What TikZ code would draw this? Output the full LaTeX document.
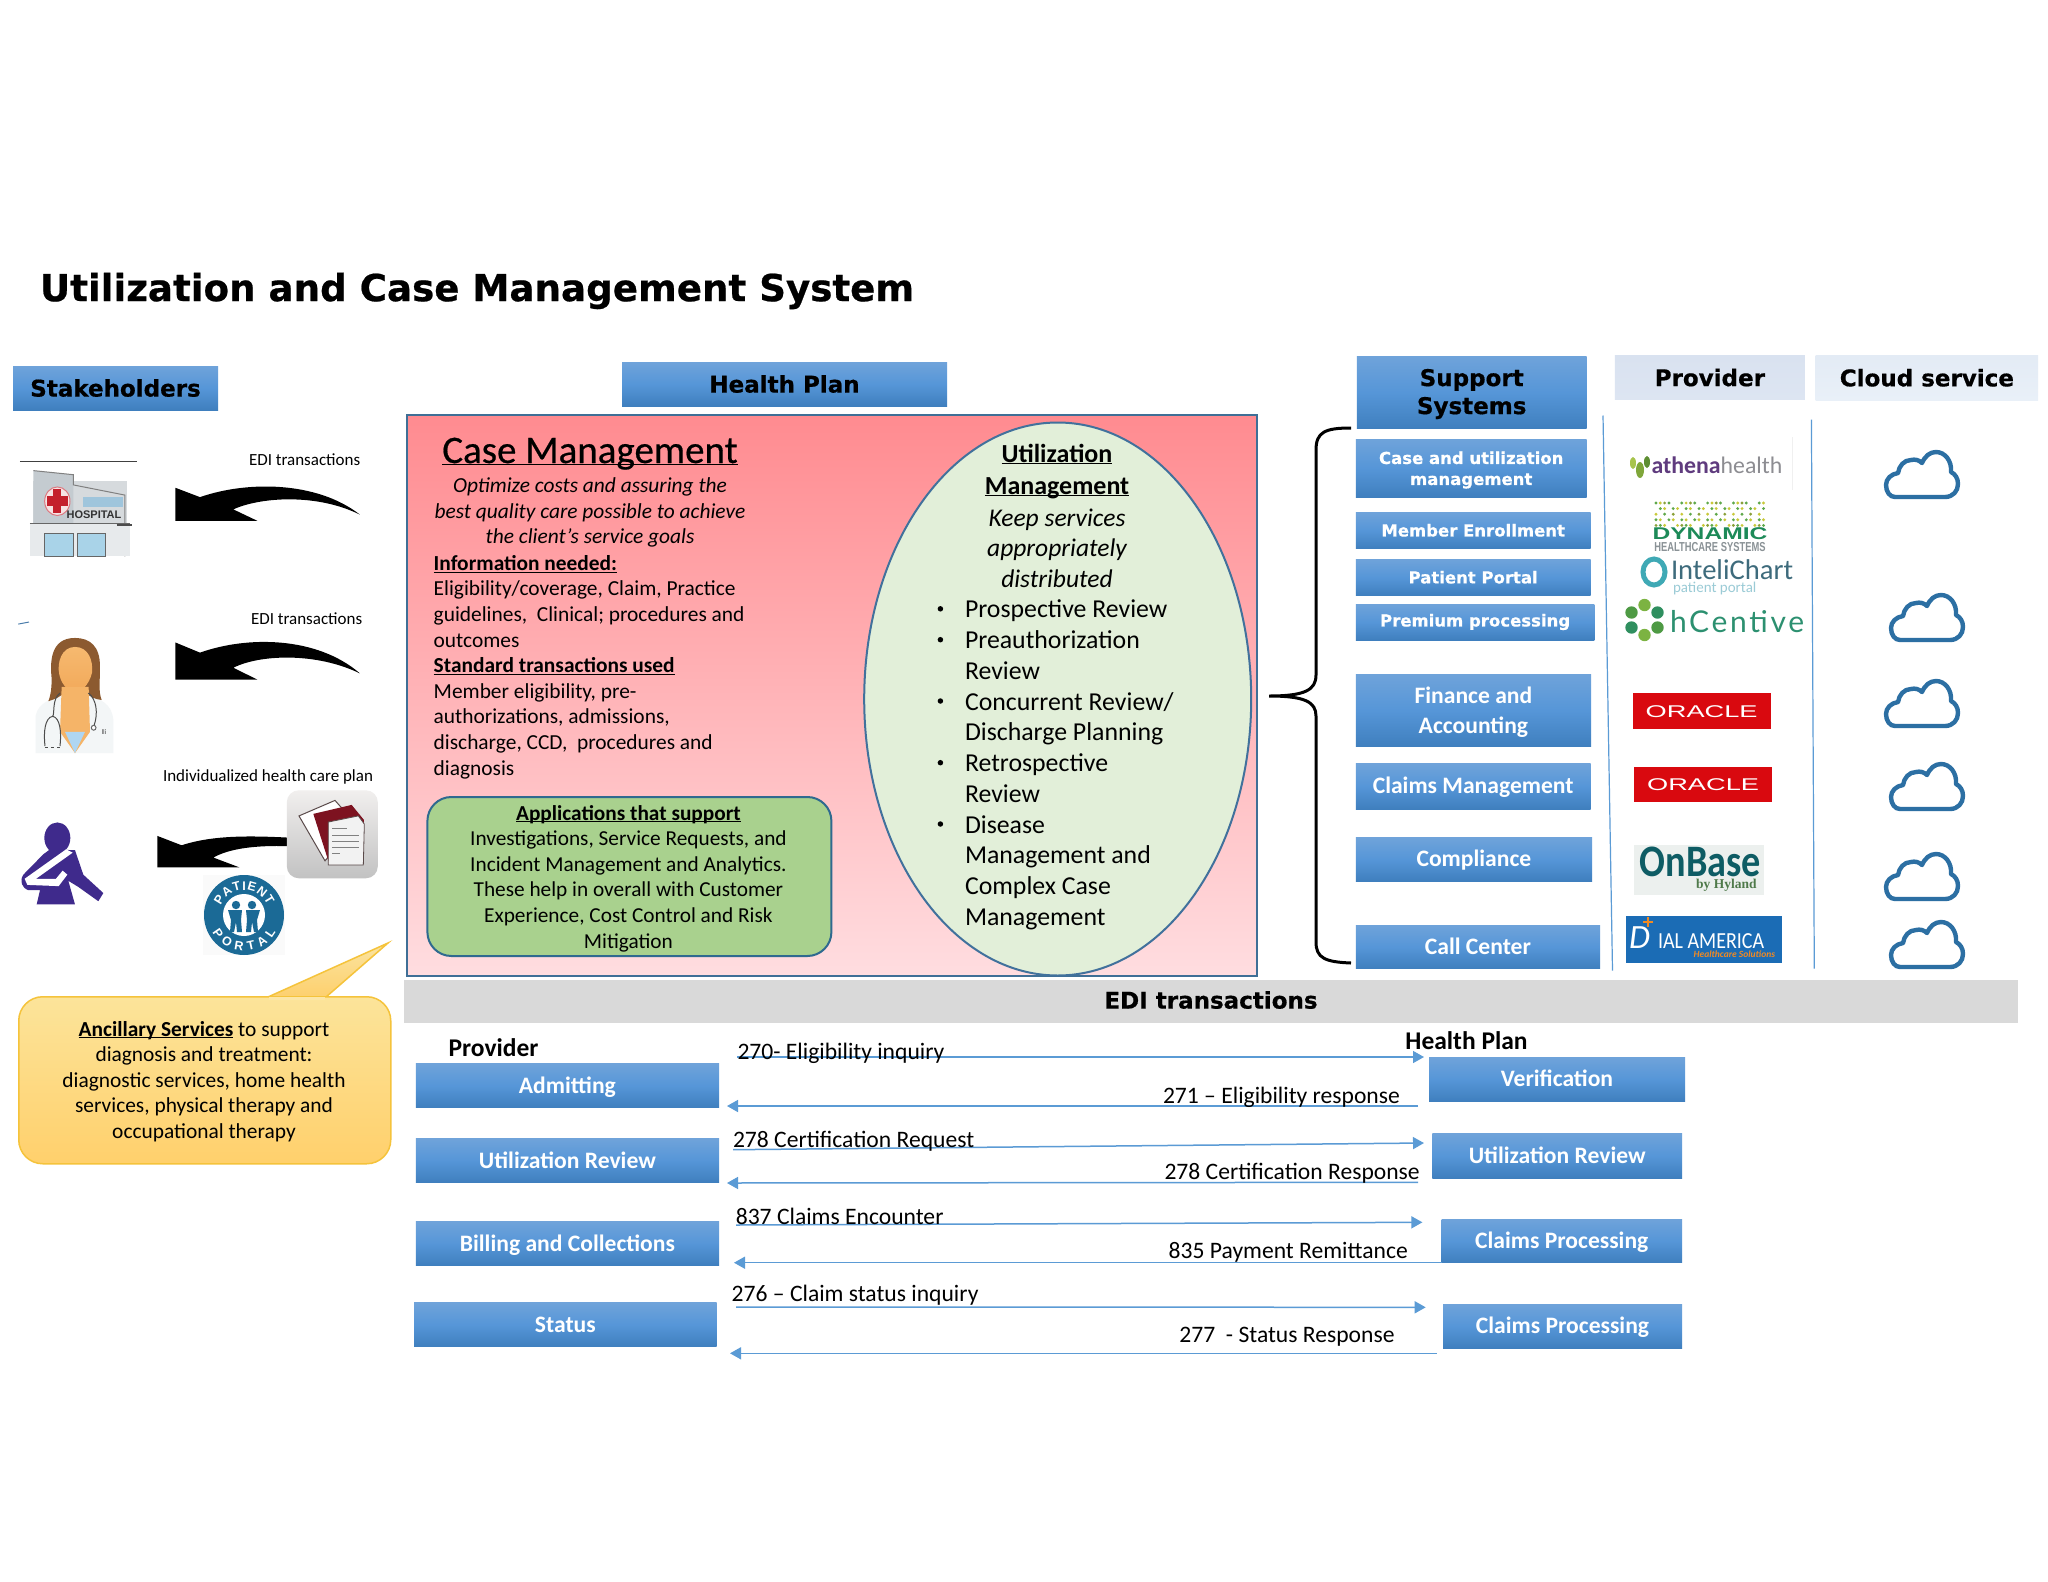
\documentclass[tikz,border=0pt]{standalone}
\usepackage{fontspec}
\usetikzlibrary{arrows.meta,decorations.text,shapes.geometric}
\setmainfont{Carlito}
\newfontfamily\verd{DejaVu Sans}[BoldFeatures={FakeBold=0.6}]
\newfontfamily\lato{Lato}
\newfontfamily\lserif{Liberation Serif}
\newfontfamily\lsans{Liberation Sans}
\newcommand\fsz[2]{\fontsize{#1}{#2}\selectfont}
\newcommand\uline[1]{\underline{\smash{#1}}\vphantom{Ag}}
\newcommand\dc[1]{\definecolor{#1}{HTML}{#1}}
\dc{F3F6F7}\dc{3F6F96}\dc{FF8B90}\dc{FFDDE0}\dc{2F6A8F}\dc{A9D18E}\dc{41719C}\dc{E2EFD9}\dc{D6DADD}\dc{C4CBD0}\dc{9FC5DC}\dc{E7EAEC}\dc{A9D3E8}\dc{F6E3E3}\dc{C4202C}\dc{8C5A30}\dc{F6B96F}\dc{F2A95A}\dc{F5B468}\dc{AFD6F2}\dc{3F2A8C}\dc{F1EFEE}\dc{C2C2C2}\dc{5A4A4A}\dc{7D1220}\dc{F2F2F2}\dc{1B6A96}\dc{F5C33B}\dc{FBE4A0}\dc{FDD06E}\dc{FCE49A}\dc{FFD06C}\dc{FCE6A6}\dc{7FA63A}\dc{A7C44C}\dc{5E8E32}\dc{5F3B7E}\dc{8D8D92}\dc{5FA84A}\dc{C9C93A}\dc{8AA03A}\dc{1D8A58}\dc{8A9296}\dc{3FA9B5}\dc{3E6B7C}\dc{9BCBD6}\dc{7CB342}\dc{4E9A44}\dc{2F8F5F}\dc{2C9070}\dc{D9090F}\dc{ECF0EE}\dc{0E5C64}\dc{4F7A4A}\dc{1B6CB5}\dc{F08A24}\dc{D9D9D9}\dc{E3EBF5}\dc{E9F0F8}\dc{D9E2F0}\dc{DDE5F2}\dc{2C6FA3}
\definecolor{bxtop}{HTML}{6FA3DA}
\definecolor{bxmid}{HTML}{5696D8}
\definecolor{bxbot}{HTML}{3F7FBE}
\definecolor{lnblue}{HTML}{5B9BD5}
\tikzset{
  bluebox/.style={inner sep=0,outer sep=0,align=center,top color=bxtop,bottom color=bxbot,middle color=bxmid,text=white},
  lightbox/.style={inner sep=0,outer sep=0,align=center,top color=D9E2F0,bottom color=DDE5F2},
  lbl/.style={inner sep=0,outer sep=0,align=center,text=black},
  edi/.style={lbl,anchor=west,font=\fsz{23.6}{26}},
  hdr/.style={font=\verd\bfseries\fsz{23}{28},text=black},
  sup/.style={font=\verd\bfseries\fsz{16.5}{21}},
  cal/.style={font=\bfseries\fsz{23.6}{29.5}},
  calone/.style={cal,text height=16pt,text depth=1pt},
  flow/.style={draw=lnblue,line width=1.5pt,-{Triangle[length=11pt,width=12pt,fill=lnblue]}},
  cloudline/.style={draw=2C6FA3,line width=4.4pt,line join=round},
  cloudshape/.pic={\draw[cloudline] (10,46) -- (60,46) .. controls (68,46) and (73,40) .. (73,33) .. controls (73,27) and (70,23) .. (66,21) .. controls (67,10) and (60,1) .. (51,1) .. controls (45,1) and (40,5) .. (37,12) .. controls (34,9) and (30,8) .. (26,9) .. controls (19,9) and (14,15) .. (13,22) .. controls (6,23) and (1,28) .. (1,34) .. controls (1,41) and (5,46) .. (10,46) -- cycle;}
}
% [style]{name}{x1}{y1}{x2}{y2}{text}
\newcommand\bbx[7][bluebox]{%
  \pgfmathsetmacro\bw{#5-#3}\pgfmathsetmacro\bh{#6-#4}%
  \node[#1,minimum width=\bw pt,minimum height=\bh pt,anchor=north west] (#2) at (#3,#4) {#7};}
\begin{document}
\begin{tikzpicture}[x=1pt,y=-1pt]
\useasboundingbox[fill=white] (0,0) rectangle (2048,1582);

% title
\node[lbl,anchor=west,font=\verd\bfseries\fsz{37.2}{42}] (title) at (40,291) {Utilization and Case Management System};

% headers
\bbx[bluebox,hdr]{stake}{13}{366}{218}{410}{Stakeholders}
\bbx[bluebox,hdr]{hplan}{622}{362}{947}{406}{Health Plan}
\bbx[bluebox,hdr]{suphdr}{1356.8}{356}{1586.7}{428.6}{}
\node[lbl,hdr,font=\verd\bfseries\fsz{23}{28}] (suptxt) at (1471.7,394) {Support\\Systems};
\bbx[lightbox,hdr]{prov}{1614.9}{355.5}{1804.8}{399.6}{Provider}
\bbx[lightbox,hdr,top color=E3EBF5,bottom color=E9F0F8]{cloudh}{1815.7}{355.5}{2038}{400}{Cloud service}

% support systems
\bbx[bluebox,sup]{s1}{1355.8}{439}{1586.7}{497}{}
\node[lbl,sup,text=white] (s1t) at (1471.2,470) {Case and utilization\\management};
\bbx[bluebox,sup]{s2}{1355.8}{512}{1590.5}{548.6}{Member Enrollment}
\bbx[bluebox,sup]{s3}{1355.8}{559}{1590.5}{595.5}{Patient Portal}
\bbx[bluebox,sup]{s4}{1355.8}{604}{1594.4}{640}{Premium processing}
\bbx[bluebox,cal]{s5}{1355.8}{674}{1591}{746.5}{}
\node[lbl,cal,text=white] (s5t) at (1473.4,712) {Finance and\\Accounting};
\bbx[bluebox,calone]{s6}{1355.8}{763.7}{1590.5}{809}{Claims Management}
\bbx[bluebox,calone]{s7}{1355.8}{837.5}{1592}{881}{Compliance}
\bbx[bluebox,calone]{s8}{1355.8}{925}{1600}{968.6}{Call Center}

% separators
\coordinate (v1a) at (1603,415.5); \coordinate (v1b) at (1612.5,970.6);
\coordinate (v2a) at (1811.4,419.6); \coordinate (v2b) at (1814.3,968.6);
\draw[lnblue,line width=1.2pt] (v1a) -- (v1b);
\draw[lnblue,line width=1.2pt] (v2a) -- (v2b);

% brace
\draw[black,line width=3pt] (1351,428) .. controls (1325,428) and (1316,432) .. (1316,450) -- (1316,675) .. controls (1316,690) and (1305,696) .. (1269,696) .. controls (1305,696) and (1316,702) .. (1316,716) -- (1316,942) .. controls (1316,958) and (1325,962) .. (1351,963);

% main panel
\node[draw=3F6F96,line width=2.4pt,top color=FF8B90,bottom color=FFDDE0,minimum width=850pt,minimum height=561pt,anchor=north west,inner sep=0] (panel) at (406,414) {};
\node[lbl,anchor=base,font=\fsz{39}{42}] (cmt) at (590,463) {\addfontfeature{FakeBold=0.5}\uline{Case Management}};
\node[lbl,font=\itshape\fsz{21.4}{25.7}] (cmi) at (590,512.5) {Optimize costs and assuring the\\best quality care possible to achieve\\the client's service goals};
\node[lbl,align=left,anchor=north west,font=\fsz{21.4}{25.6}] (cmb) at (433.7,556.5) {\textbf{\uline{Information needed:}}\\Eligibility/coverage, Claim, Practice\\guidelines,\ \ Clinical; procedures and\\outcomes\\\textbf{\uline{Standard transactions used}}\\Member eligibility, pre-\\authorizations, admissions,\\discharge, CCD,\ \ procedures and\\diagnosis};
\node[draw=2F6A8F,line width=2pt,fill=A9D18E,rounded corners=24pt,minimum width=404pt,minimum height=159pt,anchor=north west,inner sep=0] (apps) at (426.4,796) {};
\node[lbl,font=\fsz{21.3}{25.6}] (appst) at (628.4,879) {\textbf{\uline{Applications that support}}\\Investigations, Service Requests, and\\Incident Management and Analytics.\\These help in overall with Customer\\Experience, Cost Control and Risk\\Mitigation};
\node[ellipse,draw=41719C,line width=2pt,fill=E2EFD9,minimum width=387pt,minimum height=553pt,inner sep=0] (um) at (1057.7,699) {};
\node[lbl,font=\fsz{26}{32}] (umt) at (1057,472) {\textbf{\uline{Utilization}}\\\textbf{\uline{Management}}};
\node[lbl,font=\itshape\fsz{25.5}{30.5}] (umi) at (1057,548) {Keep services\\appropriately\\distributed};
\node[lbl,align=left,anchor=north west,font=\fsz{25.8}{30.75}] (uml) at (965,600) {Prospective Review\\Preauthorization\\Review\\Concurrent Review/\\Discharge Planning\\Retrospective\\Review\\Disease\\Management and\\Complex Case\\Management};
\foreach \n/\yy in {1/608.8,2/639.7,3/701,4/762.7,5/824} \node[circle,fill=black,inner sep=0,minimum size=5.5pt] (bul\n) at (940.4,\yy) {};

% stakeholders labels
\node[lbl,anchor=west,font=\fsz{17}{20}] (e1) at (249,460) {EDI transactions};
\node[lbl,anchor=west,font=\fsz{17}{20}] (e2) at (251,619) {EDI transactions};
\node[lbl,anchor=west,font=\fsz{17}{20}] (e3) at (163,777) {Individualized health care plan};

% black curved arrows, in the coordinates of the crop
\begin{scope}[shift={(0,340)},x=0.33333pt,y=-0.40816pt]
 \fill[black] (526,362) -- (600,385) .. controls (740,345) and (950,345) .. (1080,428) .. controls (950,375) and (780,385) .. (700,415) -- (772,443) -- (526,443) -- cycle;
 \fill[black] (526,741) -- (600,766) .. controls (740,725) and (950,725) .. (1080,817) .. controls (950,765) and (780,770) .. (700,803) -- (772,832) -- (526,832) -- cycle;
 \fill[black] (472,1215) -- (545,1238) .. controls (640,1212) and (760,1215) .. (862,1219) -- (862,1240) .. controls (770,1238) and (690,1245) .. (640,1268) -- (718,1292) -- (472,1292) -- cycle;

 % hospital
 \draw[black!75,line width=1pt] (60,297) -- (410,297);
 \fill[D6DADD] (100,345) rectangle (380,530);
 \fill[C4CBD0] (100,320) -- (220,330) -- (220,470) -- (100,470) -- cycle;
 \draw[gray,line width=1pt] (100,320) -- (220,330) -- (220,355) -- (375,380) -- (375,530);
 \fill[9FC5DC] (250,385) rectangle (370,410);
 \fill[E7EAEC] (90,450) rectangle (390,530);
 \fill[A9D3E8] (135,475) rectangle (220,530);
 \fill[A9D3E8] (232,475) rectangle (318,530);
 \draw[gray!80!black,line width=1pt] (135,475) rectangle (220,530) (232,475) rectangle (318,530) (90,450) -- (390,450);
 \draw[black!70,line width=1.2pt] (350,453) -- (397,453);
 \fill[F6E3E3] (172,395) ellipse (38 and 35);
 \draw[C4202C!60,line width=1pt] (172,395) ellipse (38 and 35);
 \fill[C4202C] (160,365) rectangle (184,425);
 \fill[C4202C] (140,383) rectangle (204,407);
 \node[lbl,font=\lsans\bfseries\fsz{11}{13},text=black!80] (hosp) at (282,427) {HOSPITAL};

 % blue dash
 \draw[lnblue!80!black,line width=1pt] (55,696) -- (87,691);

 % doctor
 \fill[F3F6F7] (107,1012) -- (107,920) .. controls (115,890) and (150,880) .. (185,870) -- (265,870) .. controls (300,880) and (335,890) .. (340,930) -- (340,1012) -- cycle;
 \fill[8C5A30] (225,730) .. controls (150,730) and (150,790) .. (155,830) .. controls (155,860) and (150,875) .. (145,885) .. controls (165,880) and (180,875) .. (200,860) -- (250,860) .. controls (270,875) and (285,880) .. (305,882) .. controls (295,860) and (300,840) .. (300,800) .. controls (300,750) and (270,730) .. (225,730) -- cycle;
 \shade[top color=F6B96F,bottom color=F2A95A] (225,752) .. controls (185,752) and (170,790) .. (178,820) .. controls (186,850) and (215,865) .. (225,865) .. controls (240,865) and (268,845) .. (276,815) .. controls (280,785) and (265,752) .. (225,752) -- cycle;
 \fill[F5B468] (185,850) -- (266,850) -- (270,960) -- (225,1012) -- (180,960) -- cycle;
 \fill[AFD6F2] (195,960) -- (255,960) -- (225,1012) -- cycle;
 \draw[black!70,line width=1pt] (180,865) .. controls (155,880) and (165,915) .. (158,922) .. controls (135,925) and (130,960) .. (135,995) (158,922) .. controls (180,925) and (185,960) .. (180,995);
 \draw[black!70,line width=1.4pt,dashed] (135,998) -- (180,998);
 \draw[black!70,line width=1pt] (265,865) .. controls (290,880) and (295,915) .. (282,945);
 \draw[black!60,fill=white,line width=1pt] (281,950) ellipse (7 and 6);
 \node[lbl,font=\fsz{7}{8},text=black!70] (docmark) at (312,960) {lli};

 % patient
 \fill[3F2A8C] (172,1220) ellipse (39 and 38);
 \fill[3F2A8C] (150,1248) -- (225,1250) -- (250,1310) -- (310,1355) -- (295,1375) -- (235,1340) -- (205,1325) -- (225,1383) -- (110,1383) -- (120,1348) -- (85,1348) .. controls (65,1342) and (58,1325) .. (70,1310) -- (130,1260) -- cycle;
 \fill[white] (198,1248) -- (218,1256) -- (108,1320) -- (168,1320) -- (188,1300) -- (202,1310) -- (176,1338) -- (82,1335) -- (74,1320) -- cycle;

 % documents icon
 \begin{scope}[shift={(0,6)}]
 \node[rounded corners=12pt,top color=F1EFEE,bottom color=C2C2C2,minimum width=91pt,minimum height=88pt,anchor=center,inner sep=0] (docs) at (997,1205) {};
 \fill[white] (897,1160) -- (1005,1122) -- (1068,1180) -- (975,1270) -- cycle;
 \draw[5A4A4A,line width=1pt] (897,1160) -- (1005,1122) -- (1068,1180) -- (975,1270) -- cycle;
 \fill[7D1220] (940,1155) -- (1055,1133) -- (1092,1170) -- (1085,1280) -- (985,1270) -- cycle;
 \fill[F2F2F2] (985,1175) -- (1075,1160) -- (1093,1180) -- (1090,1280) -- (985,1280) -- cycle;
 \draw[5A4A4A,line width=0.8pt] (985,1175) -- (1075,1160) -- (1093,1180) -- (1090,1280) -- (985,1280) -- cycle;
 \foreach \yy/\xe in {1192/1040,1208/1078,1222/1078,1238/1078,1252/1020} \draw[gray,line width=1pt] (997,\yy) -- (\xe,\yy);
 \end{scope}
\end{scope}

% patient portal badge
\begin{scope}[shift={(244,915)},x=1pt,y=1pt]
 \fill[white!96!gray] (-41,-40) rectangle (41,40);
 \fill[1B6A96] (0,0) circle (40);
 \fill[white] (0,0) circle (21);
 \fill[1B6A96] (-8,10) circle (4.2) (8,10) circle (4.2);
 \fill[1B6A96] (-16,5) -- (-2,5) -- (-3,-5) -- (-2,-17) -- (-7,-17) -- (-8,-7) -- (-10,-17) -- (-14,-17) -- (-13,-5) -- cycle;
 \fill[1B6A96] (16,5) -- (2,5) -- (3,-5) -- (2,-17) -- (7,-17) -- (8,-7) -- (10,-17) -- (14,-17) -- (13,-5) -- cycle;
 \path[decorate,decoration={text along path,text align=fit to path,text={|\lsans\bfseries\fsz{12.5}{14}\color{white}|PATIENT}}] (158:25) arc (158:22:25);
 \path[decorate,decoration={text along path,text align=fit to path,text={|\lsans\bfseries\fsz{12.5}{14}\color{white}|PORTAL}}] (208:36) arc (208:332:36);
\end{scope}

% ancillary callout
\draw[draw=F5C33B,line width=1.5pt,top color=FBE4A0,bottom color=FDD06E] (268,997) -- (388,943) -- (326,997) -- cycle;
\node[draw=F5C33B,line width=1.5pt,top color=FCE49A,bottom color=FFD06C,rounded corners=24pt,minimum width=372pt,minimum height=167pt,anchor=north west,inner sep=0] (anc) at (18,996) {};
\fill[FCE6A6] (269,997) -- (325,997) -- (325,1000) -- (269,1000) -- cycle;
\node[lbl,font=\fsz{21.4}{25.6}] (anct) at (204,1082) {\textbf{\uline{Ancillary Services}} to support\\diagnosis and treatment:\\diagnostic services, home health\\services, physical therapy and\\occupational therapy};

% clouds
\foreach \n/\xx/\yy in {1/1885/451,2/1890/594,3/1885/680,4/1890/763,5/1885/853,6/1890/921}
  \pic (cl\n) at (\xx,\yy) {cloudshape};

% logos
% athenahealth
\fill[7FA63A] (1640,470) ellipse (4 and 8);
\fill[A7C44C] (1633,463) ellipse (3 and 6);
\fill[5E8E32] (1647,462) ellipse (3 and 6);
\node[lbl,anchor=west,font=\fsz{23.8}{28}] (athena) at (1651.6,465) {\textcolor{5F3B7E}{\bfseries athena}\textcolor{8D8D92}{health}};
\draw[black!6,line width=1pt] (1792,437) -- (1792,490);
% dynamic
\foreach \i in {0,...,25} \foreach \j in {0,...,4} {
  \pgfmathtruncatemacro\mm{mod(\i*7+\j*\j*5+\i*\j,6)}
  \ifnum\mm<4
    \pgfmathtruncatemacro\cc{mod(\i+\j*2,3)}
    \ifnum\cc<1 \fill[5FA84A] (1656+\i*4.3,503+\j*5.6) circle (1.6);\else
    \ifnum\cc<2 \fill[C9C93A] (1656+\i*4.3,503+\j*5.6) circle (1.6);\else
    \fill[8AA03A] (1656+\i*4.3,503+\j*5.6) circle (1.6);\fi\fi
  \fi}
\node[lbl,font=\lsans\bfseries\fsz{17}{18},text=1D8A58] (dyn) at (1710,533.5) {\scalebox{1.45}[1]{DYNAMIC}};
\node[lbl,font=\lsans\bfseries\fsz{13}{14},text=8A9296] (dyn2) at (1710,547) {\scalebox{0.72}[1]{HEALTHCARE SYSTEMS}};
% intelichart
\draw[3FA9B5,line width=5pt] (1654,572) ellipse (11 and 13);
\node[lbl,anchor=west,font=\fsz{28.6}{32},text=3E6B7C] (inteli) at (1671,570) {InteliChart};
\node[lbl,anchor=west,font=\fsz{15}{16},text=9BCBD6] (inteli2) at (1673,588) {patient portal};
% hcentive
\foreach \a/\c in {90/7CB342,30/4E9A44,330/2F8F5F,270/7CB342,210/4E9A44,150/2F8F5F}
  \fill[\c,shift={(1644.5,620)}] (\a:15) circle (6.2);
\node[lbl,anchor=west,font=\lato\fsz{30}{34},text=2C9070] (hcent) at (1670,622) {\addfontfeature{LetterSpace=9}hCentive};
% oracle
\bbx[fill=D9090F,inner sep=0,text=white,font=\lsans\fsz{17}{18}]{or1}{1632.5}{693}{1770.4}{729}{\scalebox{1.6}[1]{ORACLE}}
\bbx[fill=D9090F,inner sep=0,text=white,font=\lsans\fsz{17}{18}]{or2}{1634}{766.5}{1771.8}{802}{\scalebox{1.6}[1]{ORACLE}}
% onbase
\fill[ECF0EE] (1634,845) rectangle (1763.7,895);
\node[lbl,anchor=west,font=\bfseries\fsz{45}{48},text=0E5C64] (onb) at (1639.7,862) {\scalebox{0.85}[1]{OnBase}};
\node[lbl,anchor=east,font=\lserif\bfseries\fsz{13.5}{15},text=4F7A4A] (onb2) at (1756.6,885) {by Hyland};
% dial america
\bbx[fill=1B6CB5,inner sep=0]{dial}{1626}{916}{1781.4}{963}{}
\node[lbl,anchor=west,font=\itshape\fsz{34}{36},text=white] (diald) at (1629,938) {D};
\draw[F08A24,line width=1.2pt] (1648,917) -- (1648,927) (1643,922) -- (1653,922);
\node[lbl,anchor=west,font=\fsz{23}{24},text=white] (dialt) at (1658,941) {\scalebox{0.87}[1]{IAL AMERICA}};
\node[lbl,anchor=east,font=\itshape\bfseries\fsz{9.5}{11},text=F08A24] (dial2) at (1775,954) {Healthcare Solutions};

% EDI band
\bbx[fill=D9D9D9,inner sep=0,align=center]{band}{403.5}{980}{2018}{1023}{}
\node[lbl,font=\verd\bfseries\fsz{23}{28}] (edi) at (1211,1000) {EDI transactions};
\node[lbl,font=\bfseries\fsz{25.5}{28}] (ph) at (493.5,1048) {Provider};
\node[lbl,font=\bfseries\fsz{25.5}{28}] (hh) at (1466.5,1041) {Health Plan};

% EDI boxes
\bbx[bluebox,calone]{l1}{415.8}{1063.7}{719}{1107.7}{Admitting}
\bbx[bluebox,calone]{l2}{415.8}{1138.7}{719}{1182.3}{Utilization Review}
\bbx[bluebox,calone]{l3}{415.8}{1221.7}{719}{1265.3}{Billing and Collections}
\bbx[bluebox,calone]{l4}{414}{1302.7}{716.7}{1346.7}{Status}
\bbx[bluebox,calone]{r1}{1429}{1057.3}{1685}{1101.3}{Verification}
\bbx[bluebox,calone]{r2}{1432.4}{1133.7}{1682}{1178}{Utilization Review}
\bbx[bluebox,calone]{r3}{1441.5}{1219}{1682}{1262.7}{Claims Processing}
\bbx[bluebox,calone]{r4}{1443}{1304}{1682}{1348.3}{Claims Processing}

% EDI flows
\coordinate (a1s) at (737,1057); \coordinate (a1e) at (1424,1057);
\coordinate (a2s) at (1418,1106); \coordinate (a2e) at (727,1106);
\coordinate (a3s) at (733,1149.7); \coordinate (a3e) at (1424,1143);
\coordinate (a4s) at (1418,1182.3); \coordinate (a4e) at (727,1183);
\coordinate (a5s) at (736,1225); \coordinate (a5e) at (1422.4,1222.3);
\coordinate (a6s) at (1441.5,1262.7); \coordinate (a6e) at (734,1262.7);
\coordinate (a7s) at (736,1307); \coordinate (a7e) at (1425.7,1307.3);
\coordinate (a8s) at (1436.5,1353.3); \coordinate (a8e) at (730,1353.3);
\foreach \k in {1,...,8} \draw[flow] (a\k s) -- (a\k e);

\node[edi] (t1) at (737.5,1053) {270- Eligibility inquiry};
\node[edi] (t2) at (1163,1097) {271 – Eligibility response};
\node[edi] (t3) at (733,1141) {278 Certification Request};
\node[edi] (t4) at (1164.5,1173.7) {278 Certification Response};
\node[edi] (t5) at (735.8,1216) {837 Claims Encounter};
\node[edi] (t6) at (1168.7,1252) {835 Payment Remittance};
\node[edi] (t7) at (731.7,1295.5) {276 – Claim status inquiry};
\node[edi] (t8) at (1179.4,1337) {277\ \ - Status Response};
\end{tikzpicture}
\end{document}
